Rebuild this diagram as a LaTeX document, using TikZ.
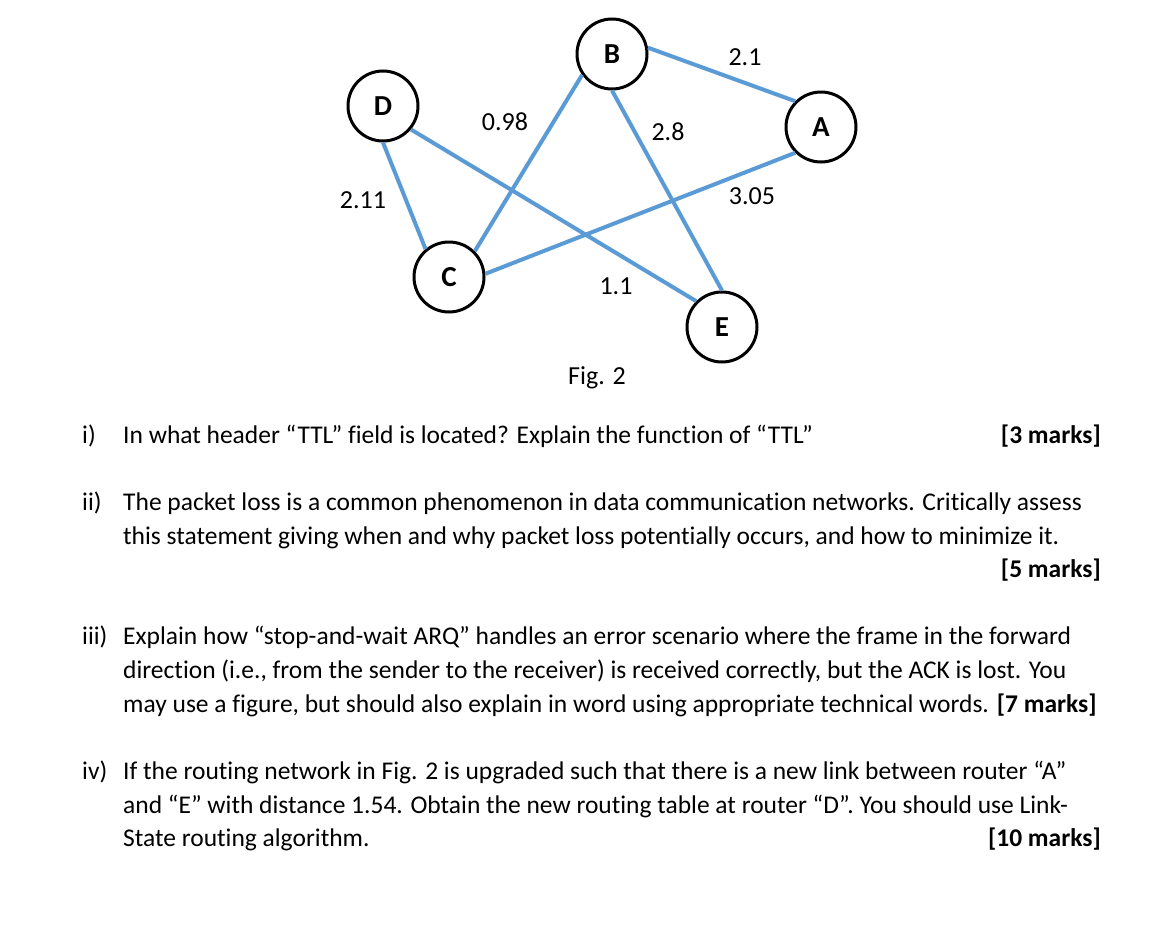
\documentclass[tikz,border=0pt]{standalone}
\usepackage{fontspec}
\setmainfont{Carlito}[Ligatures=NoCommon]
\definecolor{linkblue}{RGB}{91,155,213}
\tikzset{
  router/.style={circle,draw=black,line width=3pt,fill=white,
    minimum size=70pt,inner sep=0pt,font=\fontsize{29}{30}\selectfont\bfseries},
  link/.style={draw=linkblue,line width=4pt},
  cost/.style={font=\fontsize{26}{30}\selectfont,inner sep=0pt},
  body/.style={anchor=base west,inner sep=0pt,font=\fontsize{25.5}{33}\selectfont},
  marks/.style={anchor=base east,inner sep=0pt,font=\fontsize{25.5}{33}\selectfont\bfseries}
}
\begin{document}
\begin{tikzpicture}[x=1pt,y=-1pt]
\useasboundingbox (0,0) rectangle (1152,929);
% routers
\node[router] (B) at (612,54) {B};
\node[router] (D) at (383,106) {\raisebox{-3pt}{D}};
\node[router] (A) at (821,127) {\raisebox{-3pt}{A}};
\node[router] (C) at (449,277) {\raisebox{-4pt}{C}};
\node[router] (E) at (722,327) {\raisebox{-5pt}{E}};
% links, fixed to points on the circles
\draw[link] (B.10) -- (A.135);
\draw[link] (B.215) -- (C.45);
\draw[link] (B.-90) -- (E.90);
\draw[link] (D.-90) -- (C.130);
\draw[link] (D.-40) -- (E.135);
\draw[link] (C.5) -- (A.225);
% costs
\node[cost] (cBA) at (745,57) {2.1};
\node[cost] (cBC) at (505,122) {0.98};
\node[cost] (cBE) at (668,132) {2.8};
\node[cost] (cCA) at (752,196) {3.05};
\node[cost] (cDC) at (363,200) {2.11};
\node[cost] (cDE) at (616,286) {1.1};
\node[cost] (fig) at (597,378) {Fig. 2};
% questions
\node[body] (q1) at (82,443) {i)};
\node[body] (q1a) at (123,443) {In what header “TTL” field is located? Explain the function of “TTL”};
\node[marks] (m1) at (1101,443) {[3 marks]};
\node[body] (q2) at (82,510) {ii)};
\node[body] (q2a) at (123,510) {The packet loss is a common phenomenon in data communication networks. Critically assess};
\node[body] (q2b) at (123,544) {this statement giving when and why packet loss potentially occurs, and how to minimize it.};
\node[marks] (m2) at (1101,577) {[5 marks]};
\node[body] (q3) at (82,644) {iii)};
\node[body] (q3a) at (123,644) {Explain how “stop-and-wait ARQ” handles an error scenario where the frame in the forward};
\node[body] (q3b) at (123,678) {direction (i.e., from the sender to the receiver) is received correctly, but the ACK is lost. You};
\node[body] (q3c) at (123,712) {may use a figure, but should also explain in word using appropriate technical words. \textbf{[7 marks]}};
\node[body] (q4) at (82,779) {iv)};
\node[body] (q4a) at (123,779) {If the routing network in Fig. 2 is upgraded such that there is a new link between router “A”};
\node[body] (q4b) at (123,813) {and “E” with distance 1.54. Obtain the new routing table at router “D”. You should use Link-};
\node[body] (q4c) at (123,846) {State routing algorithm.};
\node[marks] (m4) at (1101,846) {[10 marks]};
\end{tikzpicture}
\end{document}
